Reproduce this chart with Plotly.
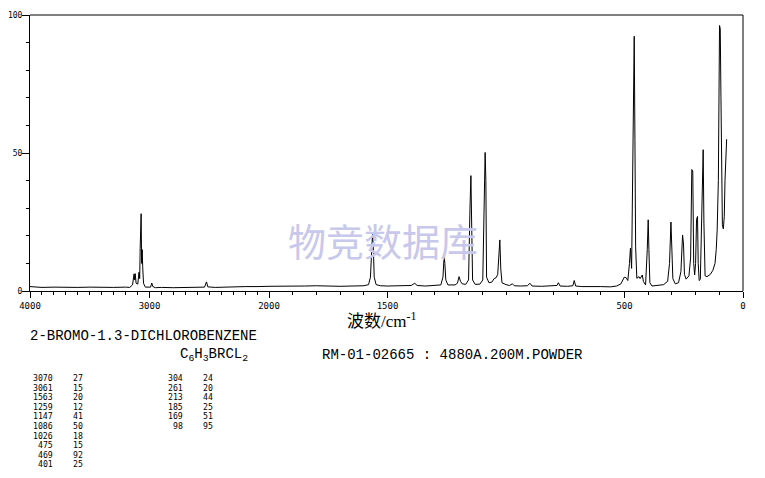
import plotly.graph_objects as go

# ---------------- data ----------------
# high-wavenumber section, 4000-2000 cm-1 (drawn on a compressed scale)
high_wn = [4000, 3900, 3800, 3700, 3600, 3500, 3400, 3300, 3200, 3165, 3142, 3129,
           3124, 3120, 3112, 3098, 3088, 3082, 3078, 3070, 3066, 3061, 3057, 3050,
           3035, 3010, 2991, 2981, 2972, 2950, 2900, 2800, 2700, 2600, 2540, 2523,
           2512, 2450, 2400, 2300, 2200, 2100, 2000]
high_int = [1.6, 1.3, 1.4, 1.3, 1.3, 1.4, 1.3, 1.3, 1.4, 1.3, 2.2, 6.2,
            4.0, 6.3, 2.8, 2.5, 6.8, 4.5, 15.5, 28.0, 10.0, 15.0, 8.8, 2.8,
            1.4, 1.5, 1.4, 2.9, 1.6, 1.2, 1.3, 1.2, 1.3, 1.3, 1.4, 3.3,
            1.5, 1.3, 1.4, 1.4, 1.6, 1.6, 1.7]

# low-wavenumber section, 2000-70 cm-1 (drawn on an expanded scale)
low_wn = [2000, 1950, 1900, 1850, 1800, 1750, 1700, 1650, 1600, 1580, 1572, 1566,
          1563, 1560, 1556, 1548, 1530, 1500, 1450, 1420, 1400, 1385, 1375, 1340,
          1300, 1275, 1266, 1261, 1258, 1254, 1245, 1215, 1205, 1198, 1192, 1185,
          1170, 1158, 1152, 1148, 1145, 1141, 1130, 1110, 1098, 1092, 1088, 1085,
          1082, 1072, 1060, 1050, 1042, 1035, 1030, 1026, 1022, 1017, 1000, 985,
          973, 965, 940, 910, 899, 890, 850, 800, 785, 779, 772, 740,
          718, 712, 706, 680, 640, 600, 560, 533, 515, 505, 501, 493,
          486, 479, 475, 470, 466, 463, 459, 456, 453, 448, 439, 434,
          425, 420, 411, 404, 400, 397, 393, 384, 364, 335, 318, 310,
          304, 300, 296, 286, 272, 262, 259, 255, 251, 247, 240, 228,
          221, 216, 212, 208, 204, 200, 196, 192, 189, 185, 180, 175,
          171, 168, 165, 160, 152, 138, 127, 118, 113, 109, 104, 101,
          99, 96, 93, 90, 87, 83, 79, 76, 72, 69]
low_int = [1.7, 1.7, 1.6, 1.8, 1.9, 1.7, 1.7, 1.8, 1.9, 2.3, 5.0, 16.0,
           20.7, 16.0, 5.0, 2.3, 1.9, 1.8, 1.8, 1.9, 2.0, 2.8, 2.0, 1.8,
           1.9, 2.2, 5.0, 12.7, 10.0, 4.0, 2.2, 2.2, 2.8, 5.2, 3.5, 2.6,
           2.4, 4.0, 30.0, 41.8, 25.0, 4.0, 2.4, 2.5, 4.0, 30.0, 50.2, 40.0,
           5.0, 3.0, 3.2, 4.5, 4.8, 6.0, 15.0, 18.5, 8.0, 3.0, 2.3, 2.0,
           2.6, 1.9, 1.8, 1.9, 2.8, 1.8, 1.7, 1.8, 2.0, 3.0, 1.8, 1.7,
           1.9, 3.8, 1.8, 1.6, 1.7, 1.6, 1.5, 1.8, 2.6, 4.5, 5.0, 4.8,
           3.8, 10.0, 15.5, 8.2, 40.0, 74.0, 92.3, 55.0, 16.0, 4.6, 5.2, 4.5,
           5.8, 3.4, 2.2, 15.0, 25.8, 15.0, 3.0, 1.8, 1.9, 2.3, 3.5, 10.0,
           25.0, 12.0, 4.5, 2.6, 3.0, 7.0, 12.0, 20.3, 17.0, 6.0, 4.3, 5.5,
           12.0, 44.0, 43.5, 10.0, 5.8, 10.0, 26.0, 27.0, 10.0, 3.8, 4.2, 20.0,
           40.0, 51.2, 25.0, 5.5, 5.2, 6.0, 7.5, 10.0, 15.0, 22.0, 40.0, 68.0,
           96.2, 95.0, 70.0, 35.0, 24.0, 22.5, 27.0, 40.0, 50.0, 55.0]

# peak table
peak_wn_1 = [3070, 3061, 1563, 1259, 1147, 1086, 1026, 475, 469, 401]
peak_int_1 = [27, 15, 20, 12, 41, 50, 18, 15, 92, 25]
peak_wn_2 = [304, 261, 213, 185, 169, 98]
peak_int_2 = [24, 20, 44, 25, 51, 95]

high_ticks = [4000, 3000]
low_ticks = [2000, 1500, 500, 0]
y_ticks = [0, 50, 100]

compound = "2-BROMO-1.3-DICHLOROBENZENE"
formula = "C<sub>6</sub>H<sub>3</sub>BRCL<sub>2</sub>"
sample = "RM-01-02665 : 4880A.200M.POWDER"
axis_title = "波数/cm<sup>-1</sup>"
watermark = "物竞数据库"

# ---------------- layout geometry ----------------
# the page body keeps an 8px default margin, so the figure is drawn 8px in
OFF = 8
W, H = 765 - OFF, 478 - OFF
L, R, T, B = 30 - OFF, 22, 15 - OFF, 187
PW, PH = W - L - R, H - T - B
split = (269 - OFF - L) / PW


def px(x):
    """page pixel x -> paper fraction"""
    return (x - OFF - L) / PW


def py(y):
    """page pixel y -> paper fraction"""
    return (H - B - (y - OFF)) / PH


mono = "Liberation Mono, DejaVu Sans Mono, monospace"
tickfont = dict(family="DejaVu Sans Mono", size=9, color="black")
ytickfont = dict(family="DejaVu Sans Mono", size=8, color="black")

fig = go.Figure()
line = dict(color="black", width=1)
fig.add_trace(go.Scatter(x=high_wn, y=high_int, mode="lines", line=line,
                         xaxis="x", yaxis="y", showlegend=False, hoverinfo="skip"))
fig.add_trace(go.Scatter(x=low_wn, y=low_int, mode="lines", line=line,
                         xaxis="x2", yaxis="y", showlegend=False, hoverinfo="skip"))

xcommon = dict(showline=True, linecolor="black", linewidth=1, showgrid=False,
               zeroline=False, ticks="outside", ticklen=6, tickwidth=1,
               tickcolor="black", tickmode="array", tickfont=tickfont,
               anchor="y", fixedrange=True, automargin=False,
               minor=dict(ticks="outside", ticklen=3, tickwidth=1,
                          tickcolor="black", tickmode="linear", tick0=0,
                          dtick=100, showgrid=False))

fig.update_layout(
    width=W, height=H,
    margin=dict(l=L, r=R, t=T, b=B, pad=0, autoexpand=False),
    paper_bgcolor="white", plot_bgcolor="white",
    showlegend=False,
    xaxis=dict(domain=[0, split], range=[4000, 2000], tickvals=high_ticks,
               ticktext=[str(v) for v in high_ticks], **xcommon),
    xaxis2=dict(domain=[split, 1], range=[2000, 0], tickvals=low_ticks,
                ticktext=[str(v) for v in low_ticks], **xcommon),
    yaxis=dict(domain=[0, 1], range=[0, 100], tickmode="array", tickvals=y_ticks,
               showline=True, linecolor="black", linewidth=1, showgrid=False,
               zeroline=False, ticks="outside", ticklen=7, tickwidth=1,
               tickcolor="black", tickfont=ytickfont, anchor="x", fixedrange=True,
               automargin=False, ticklabelstandoff=-2,
               minor=dict(ticks="outside", ticklen=3, tickwidth=1,
                          tickcolor="black", tickmode="linear", tick0=0,
                          dtick=10, showgrid=False)),
    shapes=[
        dict(type="line", xref="paper", yref="paper", x0=0, x1=1, y0=1, y1=1,
             line=dict(color="black", width=1)),
        dict(type="line", xref="paper", yref="paper", x0=1, x1=1, y0=0, y1=1,
             line=dict(color="black", width=1)),
    ],
)

ann = []
# watermark
ann.append(dict(text=watermark, x=px(383), y=py(239), xref="paper", yref="paper",
                xanchor="center", yanchor="middle", showarrow=False,
                font=dict(family="Noto Sans CJK SC", size=38, color="#c8c8ec")))
# axis title
ann.append(dict(text=axis_title, x=px(381), y=py(320), xref="paper", yref="paper",
                xanchor="center", yanchor="middle", showarrow=False,
                font=dict(family="Liberation Serif, Noto Sans CJK SC", size=17,
                          color="black")))
ann.append(dict(text=compound, x=px(28), y=py(336), xref="paper", yref="paper",
                xanchor="left", yanchor="middle", showarrow=False,
                font=dict(family=mono, size=14, color="black")))
ann.append(dict(text=formula, x=px(178), y=py(355), xref="paper", yref="paper",
                xanchor="left", yanchor="middle", showarrow=False,
                font=dict(family=mono, size=14, color="black")))
ann.append(dict(text=sample, x=px(320), y=py(355), xref="paper", yref="paper",
                xanchor="left", yanchor="middle", showarrow=False,
                font=dict(family=mono, size=14, color="black")))

tfont = dict(family="DejaVu Sans Mono", size=8.2, color="black")
row0, dy = 378, 9.6
for cols, (xw, xi) in (((peak_wn_1, peak_int_1), (54, 84)),
                        ((peak_wn_2, peak_int_2), (184, 214))):
    for i, (w, v) in enumerate(zip(*cols)):
        yy = py(row0 + dy * i)
        ann.append(dict(text=str(w), x=px(xw), y=yy, xref="paper", yref="paper",
                        xanchor="right", yanchor="middle", showarrow=False,
                        borderpad=0, font=tfont))
        ann.append(dict(text=str(v), x=px(xi), y=yy, xref="paper", yref="paper",
                        xanchor="right", yanchor="middle", showarrow=False,
                        borderpad=0, font=tfont))

fig.update_layout(annotations=ann)
fig.write_html("out.html")
